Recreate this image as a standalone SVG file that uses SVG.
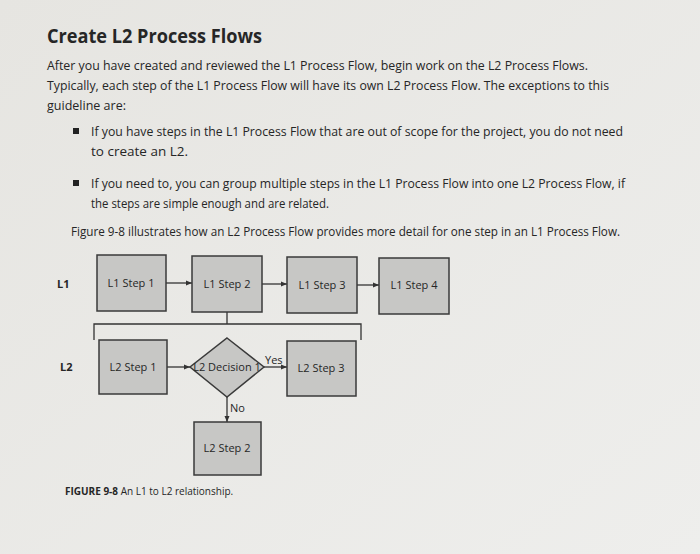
<svg xmlns="http://www.w3.org/2000/svg" width="700" height="554" viewBox="0 0 700 554">
<defs>
<linearGradient id="bg" x1="0" y1="0" x2="1" y2="1"><stop offset="0" stop-color="#e6e5e1"/><stop offset="1" stop-color="#eeeeec"/></linearGradient>
<marker id="ar" markerWidth="6" markerHeight="6" refX="6" refY="3" orient="auto" markerUnits="userSpaceOnUse"><path d="M0,0.5 L6,3 L0,5.5 Z" fill="#333"/></marker>
<style>
text{font-family:"Open Sans","Noto Sans",sans-serif;fill:#262626}
.b{font-size:13px}
.n{font-size:11px}
.box{fill:#c7c7c5;stroke:#3a3a3a;stroke-width:1.5}
.c{stroke:#333;stroke-width:1.3;fill:none}
</style>
</defs>
<rect width="700" height="554" fill="url(#bg)"/>
<text x="47" y="43" font-size="19" font-weight="bold" textLength="215" lengthAdjust="spacingAndGlyphs">Create L2 Process Flows</text>
<text class="b" x="47" y="70" textLength="541" lengthAdjust="spacingAndGlyphs">After you have created and reviewed the L1 Process Flow, begin work on the L2 Process Flows.</text>
<text class="b" x="47" y="90" textLength="562" lengthAdjust="spacingAndGlyphs">Typically, each step of the L1 Process Flow will have its own L2 Process Flow. The exceptions to this</text>
<text class="b" x="47" y="110" textLength="79" lengthAdjust="spacingAndGlyphs">guideline are:</text>
<rect x="73" y="128" width="6" height="6" fill="#222"/>
<text class="b" x="91" y="136" textLength="532" lengthAdjust="spacingAndGlyphs">If you have steps in the L1 Process Flow that are out of scope for the project, you do not need</text>
<text class="b" x="91" y="156" textLength="97" lengthAdjust="spacingAndGlyphs">to create an L2.</text>
<rect x="73" y="180" width="6" height="6" fill="#222"/>
<text class="b" x="91" y="188" textLength="534" lengthAdjust="spacingAndGlyphs">If you need to, you can group multiple steps in the L1 Process Flow into one L2 Process Flow, if</text>
<text class="b" x="91" y="208" textLength="238" lengthAdjust="spacingAndGlyphs">the steps are simple enough and are related.</text>
<text class="b" x="71" y="236" textLength="549" lengthAdjust="spacingAndGlyphs">Figure 9-8 illustrates how an L2 Process Flow provides more detail for one step in an L1 Process Flow.</text>
<text x="57" y="288" font-size="11" font-weight="bold">L1</text>
<text x="60" y="371" font-size="11" font-weight="bold">L2</text>
<g id="connectors">
<line class="c" x1="166" y1="283" x2="192" y2="283" marker-end="url(#ar)"/>
<line class="c" x1="262" y1="284" x2="287" y2="284" marker-end="url(#ar)"/>
<line class="c" x1="357" y1="285" x2="379" y2="285" marker-end="url(#ar)"/>
<path class="c" d="M227,312 V324 M94,340 V324 H361 V340"/>
<line class="c" x1="167" y1="367" x2="190" y2="367" marker-end="url(#ar)"/>
<line class="c" x1="264" y1="367" x2="287" y2="367" marker-end="url(#ar)"/>
<line class="c" x1="227" y1="397" x2="227" y2="422" marker-end="url(#ar)"/>
<text class="n" x="265" y="364" font-size="10">Yes</text>
<text class="n" x="230" y="412">No</text>
</g>
<g id="l1s1"><rect class="box" x="97" y="255" width="69" height="56"/><text class="n" x="131" y="287" text-anchor="middle">L1 Step 1</text></g>
<g id="l1s2"><rect class="box" x="192" y="256" width="70" height="56"/><text class="n" x="227" y="288" text-anchor="middle">L1 Step 2</text></g>
<g id="l1s3"><rect class="box" x="287" y="257" width="70" height="56"/><text class="n" x="322" y="289" text-anchor="middle">L1 Step 3</text></g>
<g id="l1s4"><rect class="box" x="379" y="258" width="70" height="56"/><text class="n" x="414" y="289" text-anchor="middle">L1 Step 4</text></g>
<g id="l2s1"><rect class="box" x="99" y="340" width="68" height="54"/><text class="n" x="133" y="371" text-anchor="middle">L2 Step 1</text></g>
<g id="l2d1"><polygon class="box" points="227,338 264,367 227,397 190,367"/><text class="n" x="227" y="371" text-anchor="middle">L2 Decision 1</text></g>
<g id="l2s3"><rect class="box" x="287" y="341" width="69" height="55"/><text class="n" x="321" y="372" text-anchor="middle">L2 Step 3</text></g>
<g id="l2s2"><rect class="box" x="194" y="422" width="67" height="53"/><text class="n" x="227" y="452" text-anchor="middle">L2 Step 2</text></g>
<text x="65" y="495" font-size="10"><tspan font-weight="bold">FIGURE 9-8</tspan>  An L1 to L2 relationship.</text>
</svg>
